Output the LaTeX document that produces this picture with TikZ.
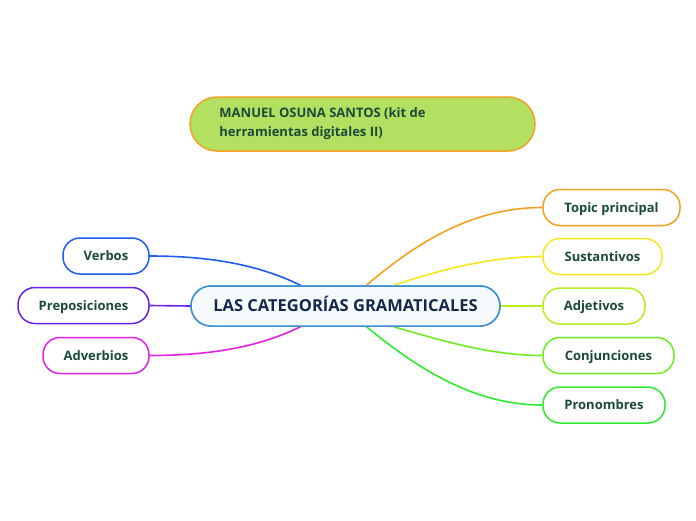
\documentclass[tikz,border=0pt]{standalone}
\usepackage{fontspec}
\setmainfont{Open Sans}
\usetikzlibrary{calc}
\definecolor{txt}{HTML}{1B4A3A}
\definecolor{ctxt}{HTML}{14284B}
\definecolor{cblue}{HTML}{3A8FD0}
\definecolor{corange}{HTML}{F5A01E}
\definecolor{cyellow}{HTML}{F2E81C}
\definecolor{cygreen}{HTML}{B6EE1C}
\definecolor{cgreen}{HTML}{6EEE22}
\definecolor{cgreen2}{HTML}{30EA30}
\definecolor{cvblue}{HTML}{1E5CF0}
\definecolor{cpurple}{HTML}{6A20E8}
\definecolor{cmag}{HTML}{E620E0}
\definecolor{topfill}{HTML}{B3E061}
\definecolor{cfill}{HTML}{F7FAFD}
\tikzset{
  leaf/.style={draw=#1, line width=1.5pt, fill=white, rounded corners=17pt,
    minimum height=36pt, inner sep=0pt, text=txt, text height=10pt, text depth=0.5pt,
    font=\fontsize{13}{15}\selectfont\bfseries},
  link/.style={draw=#1, line width=1.6pt},
  central/.style={draw=cblue, line width=1.5pt, fill=cfill, rounded corners=20pt,
    minimum width=309pt, minimum height=40pt, inner sep=0pt, text=ctxt,
    text height=12pt, text depth=0.5pt,
    font=\fontsize{16.5}{18}\selectfont\bfseries},
}
\begin{document}
\begin{tikzpicture}[x=1pt,y=-1pt]
\useasboundingbox (0,0) rectangle (696,520);
% central (placed first for anchors)
\node[central] (c) at (345.5,306) {LAS CATEGORÍAS GRAMATICALES};
% top note
\node[draw=corange, line width=1.5pt, fill=topfill, rounded corners=27pt,
  minimum width=345pt, minimum height=54pt, inner sep=0pt] (t) at (362.5,124) {};
\node[anchor=west, inner sep=0pt, text=txt, align=left,
  font=\fontsize{13}{19}\selectfont\bfseries] (tt) at ($(t.west)+(30,0)$)
  {MANUEL OSUNA SANTOS (kit de\\herramientas digitales II)};
% right leaves
\node[leaf=corange, minimum width=137pt] (r1) at (611.5,207.5) {Topic principal};
\node[leaf=cyellow, minimum width=119pt] (r2) at (602.5,256.5) {Sustantivos};
\node[leaf=cygreen, minimum width=102pt] (r3) at (594,306) {Adjetivos};
\node[leaf=cgreen, minimum width=131pt] (r4) at (608.5,355.5) {Conjunciones};
\node[leaf=cgreen2, minimum width=122pt] (r5) at (604,405) {Pronombres};
% left leaves
\node[leaf=cvblue, minimum width=86pt] (l1) at (106,256) {Verbos};
\node[leaf=cpurple, minimum width=131pt] (l2) at (83.5,305.5) {Preposiciones};
\node[leaf=cmag, minimum width=106pt] (l3) at (96,355.5) {Adverbios};
% connectors
\draw[link=corange] ($(c.north)+(21,0)$) .. controls (425,235) and (480,207.5) .. (r1.west);
\draw[link=cyellow] ($(c.north)+(48,0)$) .. controls (440,270) and (490,256.5) .. (r2.west);
\draw[link=cygreen] (c.east) -- (r3.west);
\draw[link=cgreen] ($(c.south)+(48,0)$) .. controls (440,340) and (490,355.5) .. (r4.west);
\draw[link=cgreen2] ($(c.south)+(21,0)$) .. controls (425,375) and (480,405) .. (r5.west);
\draw[link=cvblue] (l1.east) .. controls (220,256) and (265,268) .. ($(c.north)+(-45,0)$);
\draw[link=cpurple] (l2.east) -- (c.west);
\draw[link=cmag] (l3.east) .. controls (220,355.5) and (265,344) .. ($(c.south)+(-45,0)$);
% central redrawn over the connector ends
\node[central] (c2) at (c.center) {LAS CATEGORÍAS GRAMATICALES};
\end{tikzpicture}
\end{document}
